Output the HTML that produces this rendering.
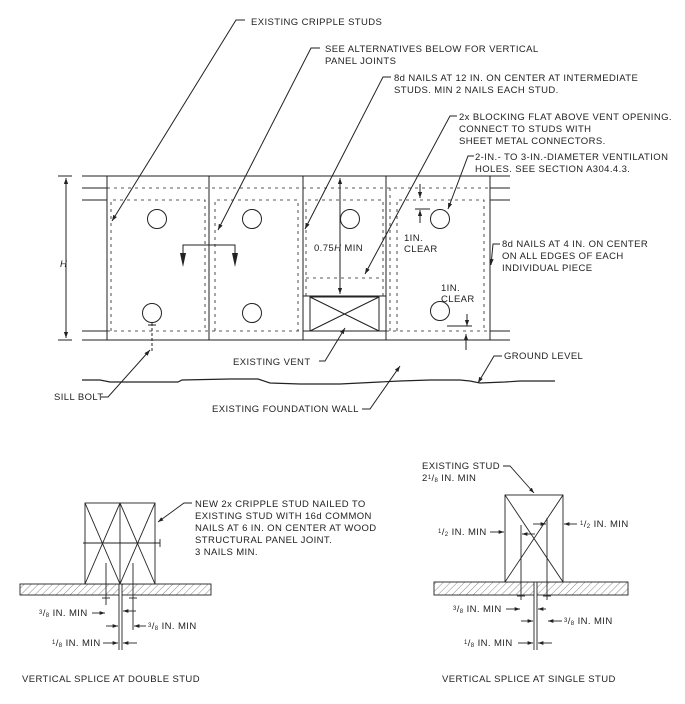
<!DOCTYPE html>
<html><head><meta charset="utf-8"><style>
body{margin:0;background:#fff}
svg{display:block}
text{font-family:"Liberation Sans",sans-serif;font-size:9.5px;letter-spacing:0.4px;fill:#222}
</style></head><body>
<svg width="685" height="704" viewBox="0 0 685 704" xmlns="http://www.w3.org/2000/svg">
<defs>
<marker id="a" viewBox="0 0 10 10" refX="10" refY="5" markerWidth="6" markerHeight="6" orient="auto-start-reverse"><path d="M0,1.5 L10,5 L0,8.5z" fill="#222"/></marker>
<pattern id="h" width="5" height="5" patternUnits="userSpaceOnUse" patternTransform="rotate(45)"><line x1="0" y1="0" x2="0" y2="5" stroke="#555" stroke-width="0.7"/></pattern>
</defs>
<g stroke="#222" fill="none" stroke-width="1">
<line x1="82" y1="176" x2="510" y2="176"/>
<line x1="82" y1="188" x2="107" y2="188"/><line x1="490" y1="188" x2="510" y2="188"/>
<line x1="82" y1="200" x2="107" y2="200"/><line x1="490" y1="200" x2="510" y2="200"/>
<line x1="82" y1="331" x2="107" y2="331"/><line x1="490" y1="331" x2="510" y2="331"/>
<line x1="82" y1="340" x2="510" y2="340"/>
<line x1="107" y1="176" x2="107" y2="340"/>
<line x1="209" y1="176" x2="209" y2="340"/>
<line x1="303" y1="176" x2="303" y2="340"/>
<line x1="386" y1="176" x2="386" y2="340"/>
<line x1="490" y1="176" x2="490" y2="340"/>
<g stroke-dasharray="3,4" stroke-width="0.8">
<line x1="107" y1="188" x2="490" y2="188"/>
<line x1="107" y1="331" x2="303" y2="331"/>
<line x1="386" y1="331" x2="490" y2="331"/>
<polyline points="111,331 111,200 205,200 205,331"/>
<polyline points="215,331 215,200 298,200 298,331"/>
<polyline points="306,296 306,200 383,200 383,296"/>
<line x1="306" y1="278" x2="383" y2="278"/>
<polyline points="397,331 397,200 484,200 484,331"/>
<line x1="390" y1="188" x2="390" y2="331"/>
</g>
<circle cx="157" cy="219" r="9.5"/><circle cx="252" cy="219" r="9.5"/>
<circle cx="350" cy="219" r="9.5"/><circle cx="440" cy="219" r="9.5"/>
<circle cx="152" cy="313" r="9.5"/><circle cx="252" cy="313" r="9.5"/>
<circle cx="440" cy="311" r="9.5"/>
<line x1="303" y1="296" x2="386" y2="296"/>
<rect x="310" y="297" width="69" height="34"/>
<line x1="303" y1="331" x2="386" y2="331"/>
<line x1="310" y1="297" x2="379" y2="331"/><line x1="379" y1="297" x2="310" y2="331"/>
<polyline points="183,258 183,245 235,245 235,258"/>
<line x1="66" y1="178" x2="66" y2="338" marker-start="url(#a)" marker-end="url(#a)"/>
<line x1="58" y1="176" x2="72" y2="176"/><line x1="58" y1="340" x2="72" y2="340"/>
<line x1="340" y1="178" x2="340" y2="294" marker-start="url(#a)" marker-end="url(#a)"/>
<line x1="420" y1="184" x2="420" y2="198" marker-end="url(#a)"/>
<line x1="420" y1="223" x2="420" y2="210" marker-end="url(#a)"/><line x1="415" y1="209" x2="430" y2="209"/>
<line x1="467" y1="314" x2="467" y2="326" marker-end="url(#a)"/><line x1="447" y1="326" x2="472" y2="326"/>
<line x1="466" y1="350" x2="466" y2="334" marker-end="url(#a)"/>
<line x1="152" y1="323" x2="152" y2="352" stroke-dasharray="3,2"/>
<line x1="148" y1="325" x2="156" y2="325"/>
<path d="M82,380 L100,380 L110,382 L140,382 L178,382 L182,380 L230,379 L258,379 L270,383 L300,384 L340,384 L360,383 L380,382 L400,381 L430,380 L460,380 L470,381 L480,383 L505,382 L520,381 L540,381 L555,381" stroke-width="1.2"/>
<polyline points="245,20 236,20 112,221" marker-end="url(#a)"/>
<polyline points="320,48 311,48 218,230" marker-end="url(#a)"/>
<polyline points="391,77 383,77 305,229" marker-end="url(#a)"/>
<polyline points="457,116 450,116 365,274" marker-end="url(#a)"/>
<polyline points="474,156 468,156 448,209" marker-end="url(#a)"/>
<polyline points="500,244 493,244 491,265" marker-end="url(#a)"/>
<polyline points="319,361 325,361 345,328" marker-end="url(#a)"/>
<polyline points="502,356 494,356 478,383" marker-end="url(#a)"/>
<polyline points="101,397 108,397 150,350" marker-end="url(#a)"/>
<polyline points="362,409 370,409 400,366" marker-end="url(#a)"/>
</g>
<path d="M180,253 L186,253 L183,267z M232,253 L238,253 L235,267z" fill="#222"/>
<text x="60" y="267" font-style="italic">H</text>
<text x="314" y="251">0.75<tspan font-style="italic">H</tspan> MIN</text>
<text x="404" y="241">1IN.</text><text x="404" y="252">CLEAR</text>
<text x="441" y="291">1IN.</text><text x="441" y="302">CLEAR</text>
<text x="251" y="25">EXISTING CRIPPLE STUDS</text>
<text x="325" y="52">SEE ALTERNATIVES BELOW FOR VERTICAL</text><text x="325" y="64">PANEL JOINTS</text>
<text x="394" y="81">8d NAILS AT 12 IN. ON CENTER AT INTERMEDIATE</text><text x="394" y="93">STUDS. MIN 2 NAILS EACH STUD.</text>
<text x="459" y="120">2x BLOCKING FLAT ABOVE VENT OPENING.</text><text x="459" y="132">CONNECT TO STUDS WITH</text><text x="459" y="144">SHEET METAL CONNECTORS.</text>
<text x="475" y="160">2-IN.- TO 3-IN.-DIAMETER VENTILATION</text><text x="475" y="172">HOLES. SEE SECTION A304.4.3.</text>
<text x="502" y="247">8d NAILS AT 4 IN. ON CENTER</text><text x="502" y="259">ON ALL EDGES OF EACH</text><text x="502" y="271">INDIVIDUAL PIECE</text>
<text x="233" y="365">EXISTING VENT</text>
<text x="504" y="359">GROUND LEVEL</text>
<text x="54" y="400">SILL BOLT</text>
<text x="212" y="412">EXISTING FOUNDATION WALL</text>

<g stroke="#222" fill="none" stroke-width="0.9">
<rect x="20" y="584" width="191" height="11" fill="url(#h)"/>
<rect x="119" y="583" width="3" height="13" fill="#fff" stroke="none"/>
<line x1="119" y1="584" x2="119" y2="595"/><line x1="122" y1="584" x2="122" y2="595"/>
<rect x="85" y="503" width="70" height="81" fill="#fff"/>
<line x1="120" y1="503" x2="120" y2="584"/>
<line x1="85" y1="503" x2="120" y2="584"/><line x1="120" y1="503" x2="85" y2="584"/>
<line x1="120" y1="503" x2="155" y2="584"/><line x1="155" y1="503" x2="120" y2="584"/>
<line x1="83" y1="543" x2="160" y2="543"/><line x1="160" y1="539" x2="160" y2="547"/>
<line x1="106" y1="563" x2="106" y2="605"/><line x1="102" y1="598" x2="110" y2="598"/>
<line x1="133" y1="563" x2="133" y2="630"/><line x1="129" y1="598" x2="137" y2="598"/>
<line x1="119" y1="595" x2="119" y2="650"/><line x1="122" y1="595" x2="122" y2="650"/>
<line x1="92" y1="613" x2="105" y2="613" marker-end="url(#a)"/>
<line x1="136" y1="611" x2="123" y2="611" marker-end="url(#a)"/>
<line x1="106" y1="626" x2="118" y2="626" marker-end="url(#a)"/>
<line x1="146" y1="626" x2="134" y2="626" marker-end="url(#a)"/>
<line x1="103" y1="643" x2="118" y2="643" marker-end="url(#a)"/>
<line x1="137" y1="643" x2="123" y2="643" marker-end="url(#a)"/>
<polyline points="192,503 184,503 158,522" marker-end="url(#a)"/>

<rect x="434" y="582" width="194" height="13" fill="url(#h)"/>
<rect x="534" y="581" width="3" height="15" fill="#fff" stroke="none"/>
<line x1="534" y1="582" x2="534" y2="595"/><line x1="537" y1="582" x2="537" y2="595"/>
<rect x="505" y="495" width="58" height="87" fill="#fff"/>
<line x1="505" y1="495" x2="563" y2="582"/><line x1="563" y1="495" x2="505" y2="582"/>
<line x1="521" y1="525" x2="521" y2="600"/><line x1="517" y1="596" x2="525" y2="596"/>
<line x1="547" y1="518" x2="547" y2="600"/><line x1="543" y1="596" x2="551" y2="596"/>
<line x1="534" y1="595" x2="534" y2="650"/><line x1="537" y1="595" x2="537" y2="650"/>
<line x1="490" y1="532" x2="504" y2="532" marker-end="url(#a)"/>
<line x1="577" y1="524" x2="564" y2="524" marker-end="url(#a)"/>
<line x1="535" y1="534" x2="522" y2="534" marker-end="url(#a)"/>
<line x1="533" y1="524" x2="546" y2="524" marker-end="url(#a)"/>
<line x1="506" y1="609" x2="520" y2="609" marker-end="url(#a)"/>
<line x1="546" y1="609" x2="538" y2="609" marker-end="url(#a)"/>
<line x1="521" y1="621" x2="533" y2="621" marker-end="url(#a)"/>
<line x1="562" y1="621" x2="548" y2="621" marker-end="url(#a)"/>
<line x1="518" y1="643" x2="533" y2="643" marker-end="url(#a)"/>
<line x1="552" y1="643" x2="538" y2="643" marker-end="url(#a)"/>
<polyline points="503,466 510,466 534,493" marker-end="url(#a)"/>
</g>
<text x="195" y="507">NEW 2x CRIPPLE STUD NAILED TO</text>
<text x="195" y="519">EXISTING STUD WITH 16d COMMON</text>
<text x="195" y="531">NAILS AT 6 IN. ON CENTER AT WOOD</text>
<text x="195" y="543">STRUCTURAL PANEL JOINT.</text>
<text x="195" y="555">3 NAILS MIN.</text>
<text x="39" y="616"><tspan font-size="6" dy="-2">3</tspan><tspan dy="2">/</tspan><tspan font-size="6" dy="1">8</tspan><tspan dy="-1"> IN. MIN</tspan></text>
<text x="148" y="629"><tspan font-size="6" dy="-2">3</tspan><tspan dy="2">/</tspan><tspan font-size="6" dy="1">8</tspan><tspan dy="-1"> IN. MIN</tspan></text>
<text x="52" y="646"><tspan font-size="6" dy="-2">1</tspan><tspan dy="2">/</tspan><tspan font-size="6" dy="1">8</tspan><tspan dy="-1"> IN. MIN</tspan></text>
<text x="22" y="682">VERTICAL SPLICE AT DOUBLE STUD</text>
<text x="422" y="469">EXISTING STUD</text>
<text x="422" y="481">2<tspan font-size="6" dy="-2">1</tspan><tspan dy="2">/</tspan><tspan font-size="6" dy="1">8</tspan><tspan dy="-1"> IN. MIN</tspan></text>
<text x="438" y="535"><tspan font-size="6" dy="-2">1</tspan><tspan dy="2">/</tspan><tspan font-size="6" dy="1">2</tspan><tspan dy="-1"> IN. MIN</tspan></text>
<text x="580" y="527"><tspan font-size="6" dy="-2">1</tspan><tspan dy="2">/</tspan><tspan font-size="6" dy="1">2</tspan><tspan dy="-1"> IN. MIN</tspan></text>
<text x="453" y="612"><tspan font-size="6" dy="-2">3</tspan><tspan dy="2">/</tspan><tspan font-size="6" dy="1">8</tspan><tspan dy="-1"> IN. MIN</tspan></text>
<text x="564" y="624"><tspan font-size="6" dy="-2">3</tspan><tspan dy="2">/</tspan><tspan font-size="6" dy="1">8</tspan><tspan dy="-1"> IN. MIN</tspan></text>
<text x="464" y="646"><tspan font-size="6" dy="-2">1</tspan><tspan dy="2">/</tspan><tspan font-size="6" dy="1">8</tspan><tspan dy="-1"> IN. MIN</tspan></text>
<text x="442" y="682">VERTICAL SPLICE AT SINGLE STUD</text>
</svg>
</body></html>
